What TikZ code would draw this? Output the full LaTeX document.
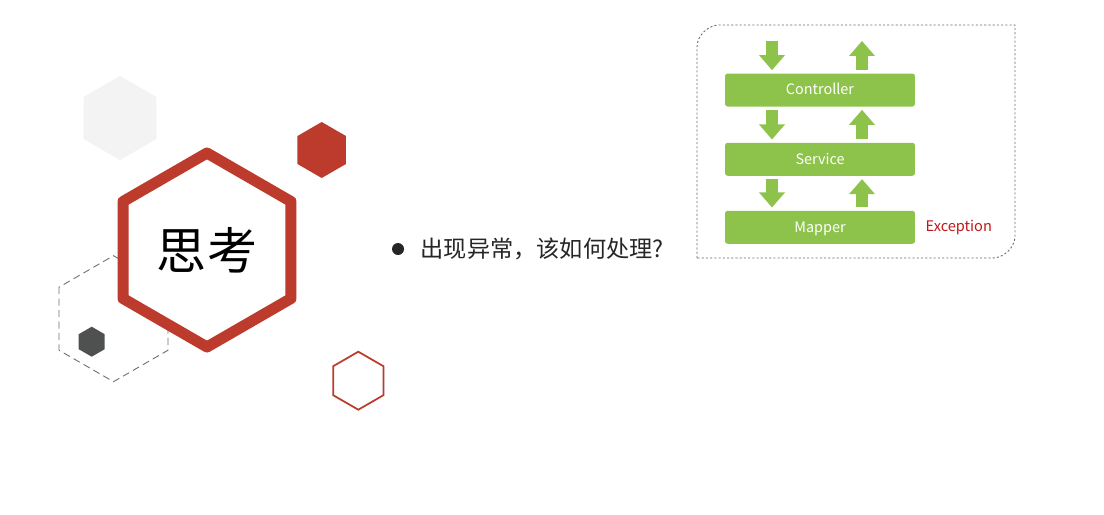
\documentclass[tikz,border=0pt]{standalone}
\usepackage{fontspec}
\setmainfont{Noto Sans CJK SC}
\usetikzlibrary{shapes.geometric, arrows.meta, positioning}
\definecolor{hex_red}{RGB}{189, 59, 44}
\definecolor{hex_grey}{RGB}{243, 243, 243}
\definecolor{dark_grey}{RGB}{79, 81, 81}
\definecolor{leaf_green}{RGB}{141, 195, 74}
\definecolor{err_red}{RGB}{192, 24, 24}
\definecolor{line_grey}{RGB}{110, 110, 110}

\tikzset{
  hexa/.style={regular polygon, regular polygon sides=6, shape border rotate=90, inner sep=0pt, outer sep=0pt},
  layer/.style={fill=leaf_green, text=white, minimum width=3.8cm, minimum height=0.66cm, rounded corners=1.5pt, text height=0.75em, text depth=0.2em, font=\fontsize{8.2}{10}\selectfont},
  flow/.style={leaf_green, line width=0.23cm, -{Triangle[width=0.5cm, length=0.3cm]}, shorten >=0.06cm, shorten <=0.06cm},
}

\begin{document}
\begin{tikzpicture}[x=0.02cm, y=-0.02cm]
	\useasboundingbox (0,0) rectangle (1104,514);
	\fill[white] (0,0) rectangle (1104,514);

	% hexagons on the left
	\node[hexa, fill=hex_grey, minimum size=1.68cm] (faint) at (120,118) {};
	\node[hexa, draw=line_grey, dash pattern=on 4pt off 2.5pt, line width=0.5pt, minimum size=2.52cm] (dashhex) at (113.5,318.7) {};
	\node[hexa, fill=dark_grey, minimum size=0.6cm] (darkhex) at (91.7,341.7) {};
	\node[hexa, draw=hex_red, fill=white, line width=0.22cm, line join=round, minimum size=3.88cm, font=\fontsize{28.5}{31}\selectfont] (think) at (207,250) {思考};
	\node[hexa, fill=hex_red, minimum size=1.12cm] (redhex) at (321.7,150) {};
	\node[hexa, draw=hex_red, line width=0.035cm, minimum size=1.16cm] (openhex) at (358.3,380.7) {};

	% the question
	\node[circle, fill=black!85, inner sep=0pt, minimum size=0.24cm] (dot) at (398,249) {};
	\node[right=0.32cm of dot, inner sep=0pt, text=black!85, font=\fontsize{13.2}{15}\selectfont] (question) {出现异常，该如何处理?};

	% layers
	\draw[line_grey, dash pattern=on 1.2pt off 1.2pt, line width=0.5pt] (697,258) -- (697,47) .. controls (697,35) and (709,25) .. (719,25) -- (1015,25) -- (1015,236) .. controls (1015,248) and (1003,258) .. (993,258) -- cycle;

	\node[layer] (controller) at (820,90) {Controller};
	\node[layer] (service) at (820,159.3) {Service};
	\node[layer] (mapper) at (820,227.3) {Mapper};
	\node[right=0.2cm of mapper, inner sep=0pt, text=err_red, font=\fontsize{8.3}{10}\selectfont] (exception) {Exception};

	\coordinate (in_top) at (772,38);
	\coordinate (out_top) at (862,38);

	% arrows down and up
	\draw[flow] (in_top) -- (controller.north -| in_top);
	\draw[flow] (controller.south -| in_top) -- (service.north -| in_top);
	\draw[flow] (service.south -| in_top) -- (mapper.north -| in_top);
	\draw[flow] (controller.north -| out_top) -- (out_top);
	\draw[flow] (service.north -| out_top) -- (controller.south -| out_top);
	\draw[flow] (mapper.north -| out_top) -- (service.south -| out_top);
\end{tikzpicture}
\end{document}
